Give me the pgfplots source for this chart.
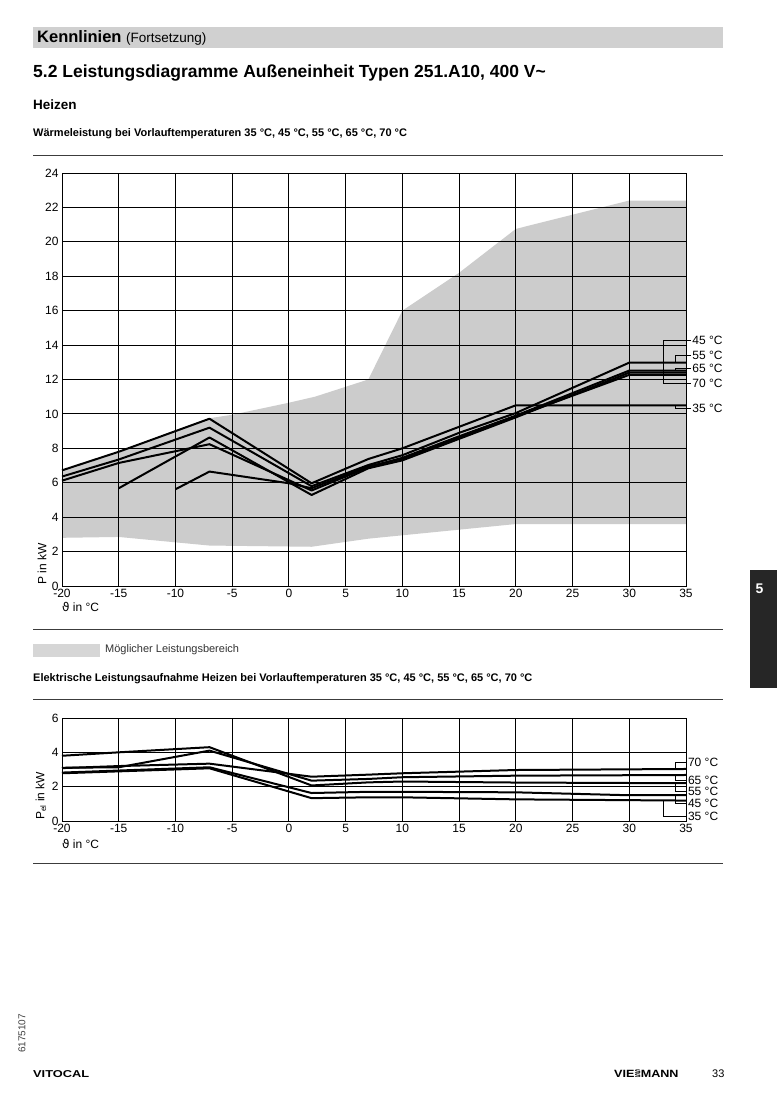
\documentclass[border=0pt]{standalone}
\usepackage{fontspec}
\setmainfont{Liberation Sans}
\newfontfamily\dejavu{DejaVu Sans}
\usepackage{graphicx}
\usepackage{pgfplots}
\pgfplotsset{compat=1.18}

\definecolor{bandgray}{RGB}{204,204,204}
\definecolor{bargray}{RGB}{208,208,208}
\definecolor{legendgray}{RGB}{214,214,214}
\definecolor{rulegray}{RGB}{60,60,60}
\definecolor{tabblack}{RGB}{38,38,38}

\newcommand{\fs}[1]{\fontsize{#1}{#1}\selectfont}

\pgfplotsset{
  kennlinie/.style={
    scale only axis, width=624pt,
    xmin=-20, xmax=35, xtick={-20,-15,...,35},
    grid=major, major grid style={black, line width=0.9pt},
    axis line style={black, line width=0.9pt},
    major tick length=0pt,
    tick label style={font=\fs{12}},
    /pgf/number format/assume math mode=true,
    axis on top, clip=false,
  },
  curve/.style={black, line width=2pt, line join=round, mark=none},
}
\tikzset{
  leader/.style={black, line width=0.8pt},
  lbl/.style={anchor=west, inner sep=0.5pt, font=\fs{12}},
}

\begin{document}
\begin{tikzpicture}[x=1pt, y=1pt]
\fill[white] (0,0) rectangle (777,1096);

% header
\fill[bargray] (33,1048) rectangle (723,1069);
\node[anchor=base west, inner sep=0] at (37,1053) {\fs{16.5}\bfseries Kennlinien \fs{13.5}\mdseries(Fortsetzung)};
\node[anchor=base west, inner sep=0] at (33,1018) {\fs{17.5}\bfseries 5.2 Leistungsdiagramme Außeneinheit Typen 251.A10, 400 V\textasciitilde};
\node[anchor=base west, inner sep=0] at (33,986) {\fs{13.5}\bfseries Heizen};
\node[anchor=base west, inner sep=0] at (33,959) {\fs{11}\bfseries Wärmeleistung bei Vorlauftemperaturen 35 °C, 45 °C, 55 °C, 65 °C, 70 °C};
\draw[rulegray, line width=0.8pt] (33,941) -- (723,941);

% Waermeleistung
\begin{axis}[kennlinie, at={(62pt,510pt)}, anchor=south west,
  height=413pt, ymin=0, ymax=24, ytick={0,2,...,24}]
\addplot[fill=bandgray, draw=none] coordinates {
  (-20,6.7) (-15,7.8) (-7,9.75) (-5,9.95) (0,10.65) (2.3,11.0) (7,12.0)
  (10,16.0) (15,18.2) (20,20.75) (30,22.4) (35,22.4)
  (35,3.6) (20,3.6) (7,2.75) (2,2.28) (-7,2.35) (-15,2.85) (-20,2.8)} -- cycle;
% 35 C
\addplot[curve] coordinates {(-20,6.72) (-15,7.8) (-7,9.72) (2,5.97) (7,7.38) (10,8.0) (15,9.25) (20,10.5) (35,10.5)};
% upper group
\addplot[curve] coordinates {(-20,6.36) (-15,7.35) (-7,9.2) (2,5.8) (7,7.03) (10,7.6) (15,8.9) (20,10.05) (30,12.98) (35,12.98)};
\addplot[curve] coordinates {(-20,6.12) (-15,7.15) (-7,8.24) (2,5.55) (7,6.9) (10,7.45) (15,8.7) (20,9.9) (30,12.52) (35,12.52)};
\addplot[curve] coordinates {(-15,5.68) (-7,8.63) (2,5.29) (7,6.84) (10,7.3) (15,8.55) (20,9.8) (30,12.4) (35,12.4)};
\addplot[curve] coordinates {(-10,5.62) (-7,6.65) (0,5.97) (2,5.68) (7,6.95) (10,7.4) (15,8.62) (20,9.85) (30,12.27) (35,12.27)};
% leaders
\draw[leader] (axis cs:35.45,14.25) -| (axis cs:33.05,11.78) -- (axis cs:35.45,11.78);
\draw[leader] (axis cs:35.45,13.42) -| (axis cs:34.08,12.97);
\draw[leader] (axis cs:35.45,12.65) -| (axis cs:34.08,12.51);
\draw[leader] (axis cs:35.45,10.33) -| (axis cs:34.08,10.52);
\node[lbl] at (axis cs:35.5,14.25) {45 °C};
\node[lbl] at (axis cs:35.5,13.42) {55 °C};
\node[lbl] at (axis cs:35.5,12.65) {65 °C};
\node[lbl] at (axis cs:35.5,11.78) {70 °C};
\node[lbl] at (axis cs:35.5,10.33) {35 °C};
\end{axis}
\node[rotate=90, anchor=west, inner sep=0] at (42,511) {\fs{12}P in kW};
\node[anchor=west, inner sep=0] at (62,489) {\fs{12}{\dejavu ϑ} in °C};

\draw[rulegray, line width=0.8pt] (33,467) -- (723,467);
\fill[legendgray] (33,439) rectangle (100,452);
\node[anchor=west, inner sep=0] at (105,446) {\fs{11}\color{black!80}Möglicher Leistungsbereich};
\node[anchor=base west, inner sep=0] at (33,414) {\fs{11}\bfseries Elektrische Leistungsaufnahme Heizen bei Vorlauftemperaturen 35 °C, 45 °C, 55 °C, 65 °C, 70 °C};
\draw[rulegray, line width=0.8pt] (33,397) -- (723,397);

% elektrische Leistungsaufnahme
\begin{axis}[kennlinie, at={(62pt,275pt)}, anchor=south west,
  height=103pt, ymin=0, ymax=6, ytick={0,2,4,6}]
\addplot[curve] coordinates {(-20,3.8) (-15,4.0) (-7,4.3) (2,2.07) (7,2.25) (10,2.3) (20,2.24) (35,2.2)};
\addplot[curve] coordinates {(-20,3.1) (-15,3.13) (-7,4.1) (2,2.35) (7,2.45) (10,2.55) (20,2.64) (35,2.68)};
\addplot[curve] coordinates {(-20,3.08) (-15,3.2) (-7,3.34) (2,2.58) (7,2.7) (10,2.78) (20,2.97) (35,3.03)};
\addplot[curve] coordinates {(-20,2.82) (-7,3.13) (2,1.63) (7,1.7) (10,1.7) (20,1.67) (30,1.5) (35,1.5)};
\addplot[curve] coordinates {(-20,2.78) (-7,3.07) (2,1.33) (7,1.38) (10,1.38) (20,1.26) (35,1.19)};
\draw[leader] (axis cs:35.06,3.42) -| (axis cs:34.1,3.03);
\draw[leader] (axis cs:35.06,2.39) -| (axis cs:34.1,2.68);
\draw[leader] (axis cs:35.06,1.71) -| (axis cs:34.1,2.2);
\draw[leader] (axis cs:35.06,1.03) -| (axis cs:34.1,1.51);
\draw[leader] (axis cs:35.06,0.29) -| (axis cs:33.05,1.19);
\node[lbl] at (axis cs:35.12,3.42) {70 °C};
\node[lbl] at (axis cs:35.12,2.39) {65 °C};
\node[lbl] at (axis cs:35.12,1.71) {55 °C};
\node[lbl] at (axis cs:35.12,1.03) {45 °C};
\node[lbl] at (axis cs:35.12,0.29) {35 °C};
\end{axis}
\node[rotate=90, anchor=west, inner sep=0] at (41,276) {\fs{12}P\textsubscript{el} in kW};
\node[anchor=west, inner sep=0] at (62,252) {\fs{12}{\dejavu ϑ} in °C};
\draw[rulegray, line width=0.8pt] (33,233) -- (723,233);

% tab
\fill[tabblack] (750,408) rectangle (777,526);
\node[text=white, inner sep=0] at (759.5,507) {\fs{14}\bfseries 5};

% footer
\node[rotate=90, inner sep=0] at (22,62.5) {\fs{10}\color{black!75}6175107};
\node[anchor=base west, inner sep=0] at (33,19) {\scalebox{1.28}[1]{\fs{10}\bfseries VITOCAL}};
\node[anchor=base west, inner sep=0] at (614,19) {\scalebox{1.2}[1]{\fs{10.5}\bfseries VIE{\scalebox{1.5}[1]{\rlap{\raisebox{3.7pt}{\fs{5.2}\bfseries S}}\fs{5.2}\bfseries S}}MANN}};
\node[anchor=base west, inner sep=0] at (712,19) {\fs{11}33};
\end{tikzpicture}
\end{document}
